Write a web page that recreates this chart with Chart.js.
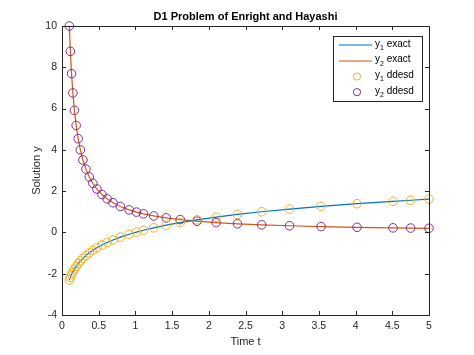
<!DOCTYPE html>
<html>
<head>
<meta charset="utf-8">
<script src="https://cdn.jsdelivr.net/npm/chart.js@4/dist/chart.umd.min.js"></script>
<style>
  html, body { margin: 0; padding: 0; background: #fff; }
  #wrap { width: 474px; height: 355px; }
</style>
</head>
<body>
<div id="wrap"><canvas id="c" width="474" height="355"></canvas></div>
<script>
// ---- data ----
const timeT = [0.1, 0.114, 0.13, 0.148, 0.169, 0.193, 0.22, 0.25, 0.285, 0.326, 0.372, 0.42, 0.475, 0.545, 0.615, 0.695, 0.795, 0.915, 1.015, 1.11, 1.25, 1.42, 1.61, 1.84, 2.10, 2.39, 2.72, 3.10, 3.53, 4.02, 4.51, 4.75, 5.0];
const y1Exact = [-2.303, -2.172, -2.040, -1.911, -1.778, -1.645, -1.514, -1.386, -1.255, -1.121, -0.989, -0.868, -0.744, -0.607, -0.486, -0.364, -0.229, -0.089, 0.015, 0.104, 0.223, 0.351, 0.476, 0.610, 0.742, 0.871, 1.001, 1.131, 1.261, 1.391, 1.506, 1.558, 1.609];
const y2Exact = [10.0, 8.772, 7.692, 6.757, 5.917, 5.181, 4.545, 4.0, 3.509, 3.067, 2.688, 2.381, 2.105, 1.835, 1.626, 1.439, 1.258, 1.093, 0.985, 0.901, 0.800, 0.704, 0.621, 0.543, 0.476, 0.418, 0.368, 0.323, 0.283, 0.249, 0.222, 0.211, 0.200];
const y1Ddesd = [-2.303, -2.172, -2.040, -1.911, -1.778, -1.645, -1.514, -1.386, -1.255, -1.121, -0.989, -0.868, -0.744, -0.607, -0.486, -0.364, -0.229, -0.089, 0.015, 0.104, 0.223, 0.351, 0.476, 0.610, 0.742, 0.871, 1.001, 1.131, 1.261, 1.391, 1.506, 1.558, 1.609];
const y2Ddesd = [10.0, 8.772, 7.692, 6.757, 5.917, 5.181, 4.545, 4.0, 3.509, 3.067, 2.688, 2.381, 2.105, 1.835, 1.626, 1.439, 1.258, 1.093, 0.985, 0.901, 0.800, 0.704, 0.621, 0.543, 0.476, 0.418, 0.368, 0.323, 0.283, 0.249, 0.222, 0.211, 0.200];
const seriesLabels = ['y_1 exact', 'y_2 exact', 'y_1 ddesd', 'y_2 ddesd'];
const xTicks = [0, 0.5, 1, 1.5, 2, 2.5, 3, 3.5, 4, 4.5, 5];
const yTicks = [-4, -2, 0, 2, 4, 6, 8, 10];
const chartTitle = 'D1 Problem of Enright and Hayashi';
const xLabel = 'Time t';
const yLabel = 'Solution y';

// ---- style ----
const AX = '#262626';
const FONT = '"Liberation Sans", Arial, sans-serif';
const seriesColors = ['#0072BD', '#D95319', '#EDB120', '#7E2F8E'];

function pts(xs, ys) { return xs.map((x, i) => ({ x: x, y: ys[i] })); }

const lineDs = (label, ys, color) => ({
  label, data: pts(timeT, ys), showLine: true, borderColor: color, borderWidth: 1.2,
  pointRadius: 0, pointHoverRadius: 0, fill: false, tension: 0, order: 2, clip: false
});
const markDs = (label, ys, color) => ({
  label, data: pts(timeT, ys), showLine: false, borderColor: color, borderWidth: 1,
  backgroundColor: 'rgba(0,0,0,0)', pointStyle: 'circle', pointRadius: 4.3, pointHoverRadius: 4.3,
  order: 1, clip: false
});

// Box, inward ticks, title, legend
const matlabPlugin = {
  id: 'matlab',
  afterDraw(chart) {
    const ctx = chart.ctx, a = chart.chartArea;
    const xs = chart.scales.x, ys = chart.scales.y;
    ctx.save();
    ctx.strokeStyle = AX; ctx.lineWidth = 1;
    ctx.strokeRect(Math.round(a.left) + 0.5, Math.round(a.top) + 0.5, Math.round(a.right - a.left), Math.round(a.bottom - a.top));
    const tl = 4;
    ctx.beginPath();
    xTicks.forEach(v => {
      const px = Math.round(xs.getPixelForValue(v)) + 0.5;
      ctx.moveTo(px, a.bottom); ctx.lineTo(px, a.bottom - tl);
      ctx.moveTo(px, a.top); ctx.lineTo(px, a.top + tl);
    });
    yTicks.forEach(v => {
      const py = Math.round(ys.getPixelForValue(v)) + 0.5;
      ctx.moveTo(a.left, py); ctx.lineTo(a.left + tl, py);
      ctx.moveTo(a.right, py); ctx.lineTo(a.right - tl, py);
    });
    ctx.stroke();

    // title
    ctx.fillStyle = '#000';
    ctx.font = 'bold 11px ' + FONT;
    ctx.textAlign = 'center'; ctx.textBaseline = 'middle';
    ctx.fillText(chartTitle, (a.left + a.right) / 2, 17);

    // legend
    const lx = 333.5, ly = 36.5, lw = 89, lh = 65;
    ctx.fillStyle = '#fff';
    ctx.fillRect(lx, ly, lw, lh);
    ctx.strokeStyle = AX; ctx.lineWidth = 1;
    ctx.strokeRect(lx, ly, lw, lh);
    const rows = [45, 60.7, 76.5, 92.2];
    chart.data.datasets.forEach((ds, i) => {
      const y = rows[i];
      const col = seriesColors[i];
      ctx.strokeStyle = col;
      if (i < 2) {
        ctx.lineWidth = 1.2;
        ctx.beginPath(); ctx.moveTo(339, Math.round(y)); ctx.lineTo(372, Math.round(y)); ctx.stroke();
      } else {
        ctx.lineWidth = 1;
        ctx.beginPath(); ctx.arc(357, y, 3.6, 0, Math.PI * 2); ctx.stroke();
      }
      const parts = ds.label.split('_');
      const base = parts[0];
      const sub = parts[1].charAt(0);
      const rest = parts[1].slice(1);
      ctx.fillStyle = '#000'; ctx.textAlign = 'left'; ctx.textBaseline = 'middle';
      ctx.font = '10px ' + FONT;
      let x = 375;
      ctx.fillText(base, x, y - 1); x += ctx.measureText(base).width;
      ctx.font = '7px ' + FONT;
      ctx.fillText(sub, x, y + 3); x += ctx.measureText(sub).width;
      ctx.font = '10px ' + FONT;
      ctx.fillText(rest, x, y - 1);
    });
    ctx.restore();
  }
};

new Chart(document.getElementById('c'), {
  type: 'scatter',
  data: {
    datasets: [
      lineDs(seriesLabels[0], y1Exact, seriesColors[0]),
      lineDs(seriesLabels[1], y2Exact, seriesColors[1]),
      markDs(seriesLabels[2], y1Ddesd, seriesColors[2]),
      markDs(seriesLabels[3], y2Ddesd, seriesColors[3])
    ]
  },
  options: {
    responsive: false,
    animation: false,
    events: [],
    layout: { padding: { top: 26, right: 45, bottom: 0, left: 0 } },
    plugins: { legend: { display: false }, title: { display: false }, tooltip: { enabled: false } },
    scales: {
      x: {
        type: 'linear', min: 0, max: 5,
        afterBuildTicks: s => { s.ticks = xTicks.map(v => ({ value: v })); },
        afterFit: s => { s.height = 40; },
        grid: { display: false, drawTicks: false },
        border: { display: false },
        ticks: { color: AX, font: { family: FONT, size: 10.5 }, padding: 5, maxRotation: 0, autoSkip: false,
                 callback: v => String(v) },
        title: { display: true, text: xLabel, color: AX, font: { family: FONT, size: 11 }, padding: { top: 0, bottom: 6 } }
      },
      y: {
        type: 'linear', min: -4, max: 10,
        afterBuildTicks: s => { s.ticks = yTicks.map(v => ({ value: v })); },
        afterFit: s => { s.width = 62; },
        grid: { display: false, drawTicks: false },
        border: { display: false },
        ticks: { color: AX, font: { family: FONT, size: 10.5 }, padding: 5, autoSkip: false,
                 callback: v => String(v) },
        title: { display: true, text: yLabel, color: AX, font: { family: FONT, size: 11 }, padding: { top: 30, bottom: 0 } }
      }
    }
  },
  plugins: [matlabPlugin]
});
</script>
</body>
</html>
